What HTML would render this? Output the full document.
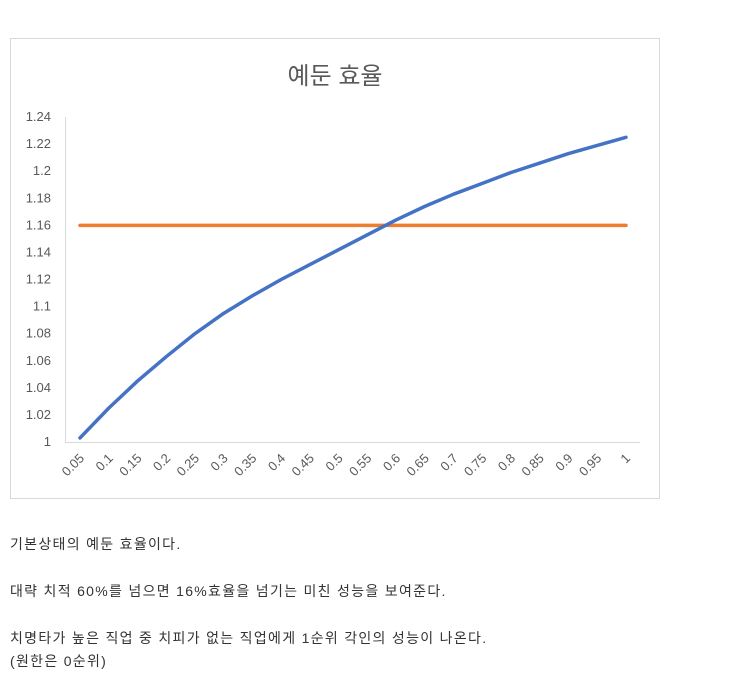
<!DOCTYPE html>
<html><head><meta charset="utf-8"><style>
body{margin:0;background:#fff;width:729px;height:693px;overflow:hidden;font-family:"Liberation Sans","Noto Sans CJK KR",sans-serif;}
.t{position:absolute;left:10px;font-size:14px;color:#333;letter-spacing:1.3px;}
</style></head><body>
<svg id="chart" width="729" height="510" style="position:absolute;left:0;top:0">
<rect x="10.5" y="38.5" width="649" height="460" fill="#fff" stroke="#d9d9d9"/>
<text x="335" y="84" text-anchor="middle" font-size="24" fill="#595959" font-family="Liberation Sans, Noto Sans CJK KR, sans-serif">예둔 효율</text>
<line x1="65.5" y1="117" x2="65.5" y2="442" stroke="#d9d9d9"/>
<line x1="65" y1="442.5" x2="640" y2="442.5" stroke="#d9d9d9"/>
<g id="yt"></g><g id="xt"></g><g id="series"></g>
</svg>
<div class="t" style="top:534px">기본상태의 예둔 효율이다.</div>
<div class="t" style="top:581px">대략 치적 60%를 넘으면 16%효율을 넘기는 미친 성능을 보여준다.</div>
<div class="t" style="top:628px">치명타가 높은 직업 중 치피가 없는 직업에게 1순위 각인의 성능이 나온다.</div>
<div class="t" style="top:651px">(원한은 0순위)</div>
<script>
const categories=["0.05","0.1","0.15","0.2","0.25","0.3","0.35","0.4","0.45","0.5","0.55","0.6","0.65","0.7","0.75","0.8","0.85","0.9","0.95","1"];
const efficiency=[1.003,1.025,1.045,1.063,1.080,1.095,1.108,1.120,1.131,1.142,1.153,1.164,1.174,1.183,1.191,1.199,1.206,1.213,1.219,1.225];
const baseline=[1.16,1.16,1.16,1.16,1.16,1.16,1.16,1.16,1.16,1.16,1.16,1.16,1.16,1.16,1.16,1.16,1.16,1.16,1.16,1.16];
const yTicks=["1","1.02","1.04","1.06","1.08","1.1","1.12","1.14","1.16","1.18","1.2","1.22","1.24"];
const NS="http://www.w3.org/2000/svg";
const yMin=1,yMax=1.24,yTop=117,yBot=442;
function ys(v){return yBot-(v-yMin)/(yMax-yMin)*(yBot-yTop);}
const x0=80,x1=626;
function xs(i){return x0+i*(x1-x0)/(categories.length-1);}
const yt=document.getElementById('yt');
yTicks.forEach(l=>{const t=document.createElementNS(NS,'text');


t.setAttribute('x',51);t.setAttribute('y',ys(parseFloat(l))+4);t.setAttribute('text-anchor','end');t.setAttribute('font-size','13');t.setAttribute('fill','#595959');t.textContent=l;yt.appendChild(t);});
const xt=document.getElementById('xt');
categories.forEach((l,i)=>{const t=document.createElementNS(NS,'text');


const x=xs(i)+5,y=459;t.setAttribute('x',x);t.setAttribute('y',y);t.setAttribute('text-anchor','end');t.setAttribute('font-size','13');t.setAttribute('fill','#595959');t.setAttribute('transform','rotate(-45 '+x+' '+y+')');t.textContent=l;xt.appendChild(t);});
const g=document.getElementById('series');
function line(arr,color,name){const p=document.createElementNS(NS,'polyline');


p.setAttribute('points',arr.map((v,i)=>xs(i)+','+ys(v)).join(' '));p.setAttribute('fill','none');p.setAttribute('stroke',color);p.setAttribute('stroke-width','3.5');p.setAttribute('stroke-linecap','round');p.setAttribute('stroke-linejoin','round');g.appendChild(p);}
line(baseline,'#ed7d31','baseline-line');
line(efficiency,'#4472c4','efficiency-line');
</script>
</body></html>
